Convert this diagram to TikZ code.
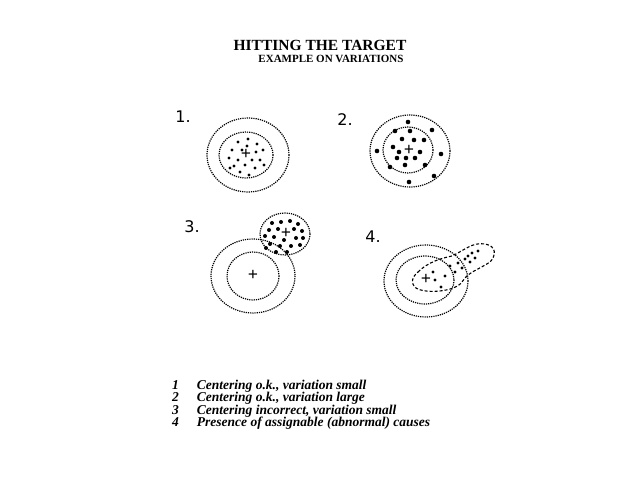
\documentclass[tikz,border=0pt]{standalone}
\usepackage{fontspec}
\setmainfont{Liberation Serif}
\newfontfamily\hand{DejaVu Sans}
\begin{document}
\begin{tikzpicture}[x=1pt,y=-1pt,
  ring/.style={densely dotted,line width=1.2pt},
  dt/.style={circle,fill=black,inner sep=0pt,minimum size=3.4pt},
  bd/.style={circle,fill=black,inner sep=0pt,minimum size=4.6pt},
  cr/.style={font=\fontsize{18}{18}\selectfont\bfseries},
  num/.style={font=\hand\fontsize{16}{16}\selectfont},
  leg/.style={anchor=west,font=\bfseries\itshape\fontsize{13.5}{13.5}\selectfont,inner sep=0pt}]
\useasboundingbox (0,0) rectangle (638,478);
\node[font=\bfseries\fontsize{15.5}{16}\selectfont] (t1) at (320,45) {HITTING THE TARGET};
\node[font=\bfseries\fontsize{11}{12}\selectfont] (t2) at (331,59) {EXAMPLE ON VARIATIONS};
% 1
\node[num] (n1) at (183,117) {1.};
\draw[ring] (248,155) ellipse (41 and 37);
\draw[ring] (246,155) ellipse (27 and 23);
\node[cr] (c1) at (246,154) {+};
\foreach \p in {(238,142),(248,139),(257,144),(232,150),(242,150),(256,152),(263,150),(229,158),(238,160),(252,160),(260,160),(234,166),(245,165),(255,168),(240,172),(249,175),(230,168),(264,165),(247,146)}
  \node[dt] at \p {};
% 2
\node[num] (n2) at (345,120) {2.};
\draw[ring] (410,151) ellipse (40 and 36);
\draw[ring] (408,150) ellipse (25 and 23);
\node[cr] (c2) at (409,150) {+};
\foreach \p in {(408,122),(395,131),(410,131),(432,130),(402,139),(414,140),(424,140),(393,147),(377,151),(399,152),(420,152),(441,154),(397,158),(406,158),(415,158),(390,167),(405,165),(425,165),(434,176),(409,182)}
  \node[bd] at \p {};
% 3
\node[num] (n3) at (192,227) {3.};
\draw[ring] (253,276) ellipse (42 and 37);
\draw[ring] (253,276) ellipse (26 and 24);
\node[cr] (c3) at (253,275) {+};
\draw[ring] (285,234) ellipse (25 and 21);
\node[cr] (c3b) at (286,233) {+};
\foreach \p in {(272,223),(281,222),(290,221),(298,224),(269,230),(278,229),(294,229),(302,231),(265,236),(274,237),(284,240),(296,238),(303,238),(270,244),(280,246),(291,246),(300,245),(266,248),(287,252),(276,252)}
  \node[bd,minimum size=4pt] at \p {};
% 4
\node[num] (n4) at (373,237) {4.};
\draw[ring] (426,281) ellipse (42 and 36);
\draw[ring] (425,280) ellipse (29 and 24);
\node[cr] (c4) at (426,279) {+};
\draw[line width=1.1pt,densely dashed] (418,272) .. controls (428,262) and (442,258) .. (452,256)
  .. controls (465,250) and (472,242) .. (485,244) .. controls (497,246) and (496,256) .. (490,262)
  .. controls (478,270) and (468,272) .. (462,282) .. controls (455,292) and (425,294) .. (416,288)
  .. controls (410,283) and (412,277) .. (418,272);
\foreach \p in {(433,272),(435,280),(441,287),(445,276),(450,266),(455,272),(458,263),(462,268),(465,259),(468,256),(470,262),(472,253),(475,258),(478,251)}
  \node[dt] at \p {};
% legend
\node[leg] (l1) at (172,386) {1\hspace{18pt}Centering o.k., variation small};
\node[leg] (l2) at (172,398.5) {2\hspace{18pt}Centering o.k., variation large};
\node[leg] (l3) at (172,411) {3\hspace{18pt}Centering incorrect, variation small};
\node[leg] (l4) at (172,423.5) {4\hspace{18pt}Presence of assignable (abnormal) causes};
\end{tikzpicture}
\end{document}
